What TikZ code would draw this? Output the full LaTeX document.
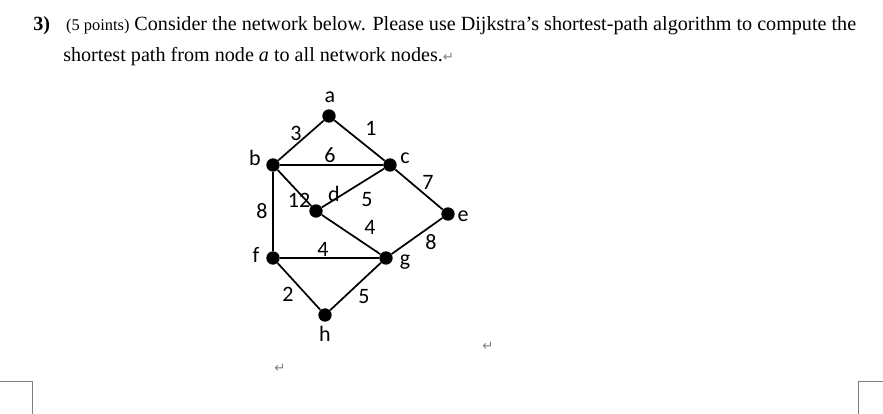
\documentclass[tikz,border=0pt]{standalone}
\usepackage{fontspec}
\setmainfont{Liberation Serif}
\newfontfamily\lbl{Carlito}
\newfontfamily\dv{DejaVu Sans}
\newcommand{\ret}{{\dv\fontsize{10}{10}\selectfont\textcolor{gray}{↵}}}
\begin{document}
\begin{tikzpicture}[x=0.75pt,y=-0.75pt,
  vtx/.style={circle,fill=black,inner sep=0pt,minimum size=10pt},
  lab/.style={font=\lbl\fontsize{16.5}{16.5}\selectfont,inner sep=0pt},
  edge/.style={line width=1.3pt},
  txt/.style={anchor=base west,inner sep=0pt,font=\fontsize{15.1}{18}\selectfont}]
\useasboundingbox (0,0) rectangle (883,414);
\node[txt] (t1) at (33,31) {\textbf{3)}\hspace{0.8em}{\fontsize{12.3}{14}\selectfont(5 points)} Consider the network below. Please use Dijkstra’s shortest-path algorithm to compute the};
\node[txt] (t2) at (63,61) {shortest path from node \textit{a} to all network nodes.\ret};
\node (a) [vtx] at (329,116) {};
\node (b) [vtx] at (273,165) {};
\node (c) [vtx] at (390,165) {};
\node (d) [vtx] at (316,211) {};
\node (e) [vtx] at (448,214) {};
\node (f) [vtx] at (273,258) {};
\node (g) [vtx] at (386,258) {};
\node (h) [vtx] at (325,315) {};
\draw[edge] (a)--(b) (a)--(c) (b)--(c) (b)--(d) (c)--(d) (c)--(e) (b)--(f) (d)--(g) (f)--(g) (e)--(g) (f)--(h) (g)--(h);
\node[lab] (la) at (330,97) {a};
\node[lab] (lb) at (255,158) {b};
\node[lab] (lc) at (405,158) {c};
\node[lab] (ld) at (334,194) {d};
\node[lab] (le) at (463,216) {e};
\node[lab] (lf) at (256,255) {f};
\node[lab] (lg) at (405,262) {g};
\node[lab] (lh) at (325,334) {h};
\node[lab] (w1) at (296,133) {3};
\node[lab] (w2) at (371,128) {1};
\node[lab] (w3) at (330,155) {6};
\node[lab] (w4) at (428,182) {7};
\node[lab] (w5) at (299,200) {12};
\node[lab] (w6) at (367,200) {5};
\node[lab] (w7) at (262,211) {8};
\node[lab] (w8) at (370,227) {4};
\node[lab] (w9) at (323,249) {4};
\node[lab] (w10) at (431,242) {8};
\node[lab] (w11) at (288,294) {2};
\node[lab] (w12) at (364,297) {5};
\node (r1) at (280,368) {\ret};
\node (r2) at (488,346) {\ret};
\draw[gray,line width=0.6pt] (0,381)--(32,381)--(32,414);
\draw[gray,line width=0.6pt] (883,381)--(858,381)--(858,414);
\end{tikzpicture}
\end{document}
